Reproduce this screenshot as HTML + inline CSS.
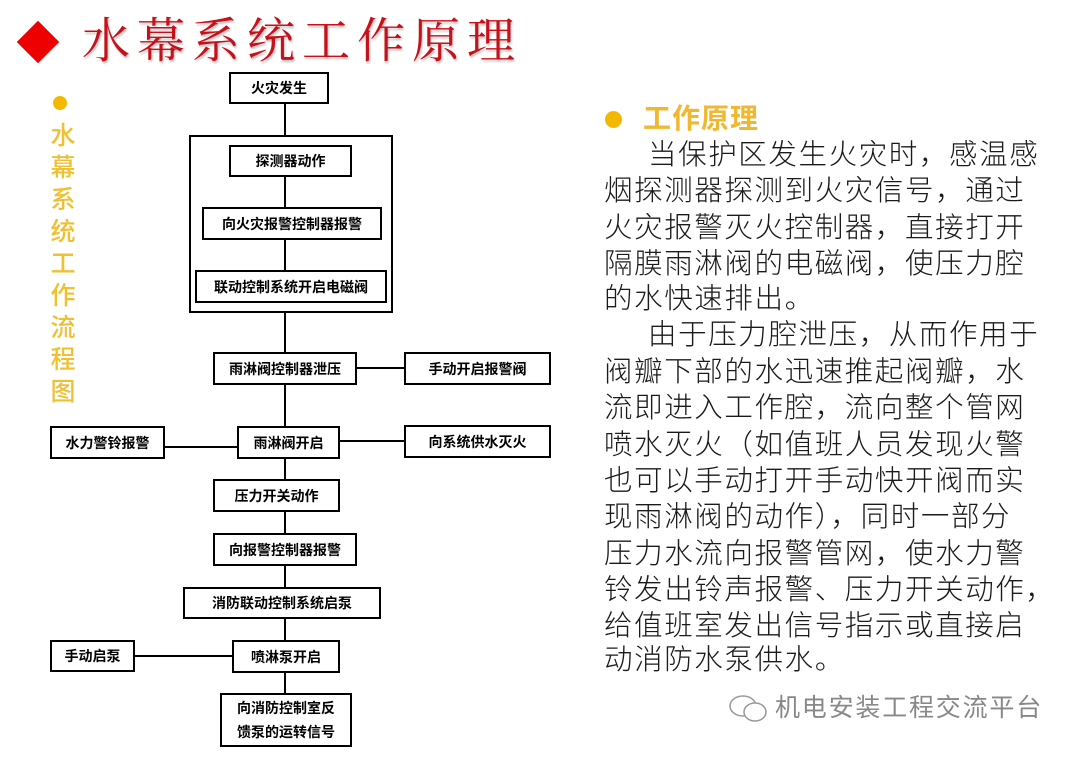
<!DOCTYPE html>
<html><head><meta charset="utf-8"><style>
body{margin:0;width:1080px;height:757px;background:#fff;position:relative;overflow:hidden;font-family:"Liberation Sans","Noto Sans CJK SC",sans-serif}
.b{position:absolute;border:2px solid #000;box-sizing:border-box;display:flex;align-items:center;justify-content:center;font-size:14px;font-weight:bold;color:#000;background:#fff;text-align:center;line-height:24px}
.l{position:absolute;background:#000}
.t{position:absolute;left:604px;font-size:28.5px;letter-spacing:1.6px;color:#1a1a1a;font-family:"Liberation Sans","Noto Sans CJK SC",sans-serif;font-weight:300;white-space:nowrap;line-height:36px}
.v{position:absolute;left:49px;font-size:25px;font-weight:500;color:#f0c030;line-height:32px;width:28px;text-align:center}
</style></head><body>
<div style="position:absolute;left:23px;top:27px;width:30px;height:30px;background:#e00;transform:rotate(45deg)"></div>
<div style="position:absolute;left:82px;top:12px;font-size:48px;color:#c8101a;font-family:'Liberation Serif','Noto Serif CJK SC',serif;letter-spacing:7px;text-shadow:1px 2px 2px #bbb;line-height:60px">水幕系统工作原理</div>

<div style="position:absolute;left:53px;top:96px;width:14px;height:14px;border-radius:50%;background:#f5b800"></div>
<div class="v" style="top:120px">水<br>幕<br>系<br>统<br>工<br>作<br>流<br>程<br>图</div>

<div class="l" style="left:284px;top:103px;width:2px;height:250px"></div>
<div class="l" style="left:284px;top:384px;width:2px;height:310px"></div>
<div class="b" style="left:189px;top:135px;width:204px;height:178px"></div>
<div class="l" style="left:284px;top:176px;width:2px;height:94px"></div>
<div class="l" style="left:357px;top:367px;width:48px;height:2px"></div>
<div class="l" style="left:165px;top:446px;width:72px;height:2px"></div>
<div class="l" style="left:340px;top:440px;width:64px;height:2px"></div>
<div class="l" style="left:135px;top:655px;width:97px;height:2px"></div>

<div class="b" style="left:229px;top:72px;width:100px;height:32px">火灾发生</div>
<div class="b" style="left:229px;top:145px;width:123px;height:32px">探测器动作</div>
<div class="b" style="left:202px;top:207px;width:180px;height:33px">向火灾报警控制器报警</div>
<div class="b" style="left:195px;top:270px;width:192px;height:33px">联动控制系统开启电磁阀</div>
<div class="b" style="left:213px;top:352px;width:144px;height:33px">雨淋阀控制器泄压</div>
<div class="b" style="left:404px;top:352px;width:147px;height:33px">手动开启报警阀</div>
<div class="b" style="left:50px;top:426px;width:115px;height:33px">水力警铃报警</div>
<div class="b" style="left:237px;top:426px;width:103px;height:33px">雨淋阀开启</div>
<div class="b" style="left:404px;top:425px;width:147px;height:33px">向系统供水灭火</div>
<div class="b" style="left:213px;top:479px;width:127px;height:33px">压力开关动作</div>
<div class="b" style="left:213px;top:533px;width:144px;height:33px">向报警控制器报警</div>
<div class="b" style="left:183px;top:587px;width:198px;height:32px">消防联动控制系统启泵</div>
<div class="b" style="left:50px;top:640px;width:85px;height:32px">手动启泵</div>
<div class="b" style="left:232px;top:640px;width:108px;height:33px">喷淋泵开启</div>
<div class="b" style="left:220px;top:693px;width:132px;height:54px">向消防控制室反<br>馈泵的运转信号</div>

<div style="position:absolute;left:605px;top:111px;width:17px;height:17px;border-radius:50%;background:#f5b800"></div>
<div style="position:absolute;left:643px;top:101px;font-size:28px;font-weight:bold;color:#f0b830;line-height:36px;letter-spacing:1px">工作原理</div>

<div class="t" style="top:137px;left:648px">当保护区发生火灾时，感温感</div>
<div class="t" style="top:173px">烟探测器探测到火灾信号，通过</div>
<div class="t" style="top:210px">火灾报警灭火控制器，直接打开</div>
<div class="t" style="top:246px">隔膜雨淋阀的电磁阀，使压力腔</div>
<div class="t" style="top:281px">的水快速排出。</div>
<div class="t" style="top:317px;left:648px">由于压力腔泄压，从而作用于</div>
<div class="t" style="top:354px">阀瓣下部的水迅速推起阀瓣，水</div>
<div class="t" style="top:390px">流即进入工作腔，流向整个管网</div>
<div class="t" style="top:427px">喷水灭火（如值班人员发现火警</div>
<div class="t" style="top:463px">也可以手动打开手动快开阀而实</div>
<div class="t" style="top:499px">现雨淋阀的动作），同时一部分</div>
<div class="t" style="top:536px">压力水流向报警管网，使水力警</div>
<div class="t" style="top:572px">铃发出铃声报警、压力开关动作，</div>
<div class="t" style="top:608px">给值班室发出信号指示或直接启</div>
<div class="t" style="top:642px">动消防水泵供水。</div>

<svg style="position:absolute;left:727px;top:692px" width="44" height="34" viewBox="0 0 44 34"><ellipse cx="16" cy="14" rx="13" ry="10" fill="none" stroke="#999" stroke-width="1.5"/><ellipse cx="28" cy="20" rx="11" ry="9" fill="#fff" stroke="#999" stroke-width="1.5"/></svg>
<div style="position:absolute;left:775px;top:692px;font-size:25px;color:#888;line-height:32px;letter-spacing:1.8px">机电安装工程交流平台</div>
</body></html>
